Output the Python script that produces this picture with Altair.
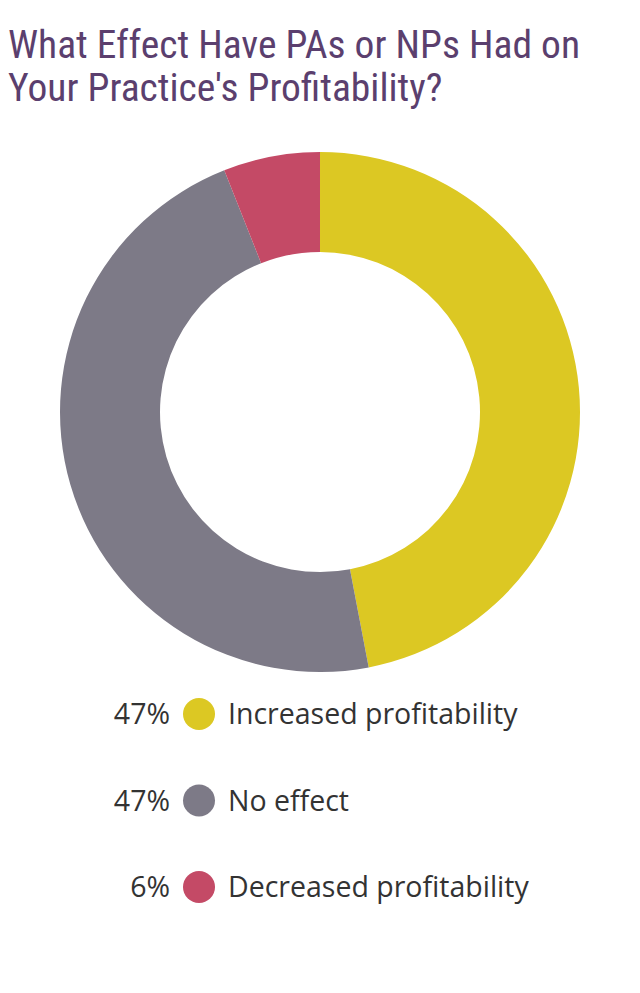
import altair as alt
import pandas as pd

categories = ["Increased profitability", "No effect", "Decreased profitability"]
percents = [47, 47, 6]
pct_labels = ["47%", "47%", "6%"]
colors = ["#dcc823", "#7d7a87", "#c44a66"]
title_lines = ["What Effect Have PAs or NPs Had on", "Your Practice's Profitability?"]

df = pd.DataFrame({
    "category": categories,
    "pct": percents,
    "pct_label": pct_labels,
    "idx": list(range(len(categories))),
})
tdf = pd.DataFrame({"line": ["\n".join(title_lines)]})

color = alt.Color("category:N", scale=alt.Scale(domain=categories, range=colors), legend=None)
ypos = alt.Y("category:N", scale=alt.Scale(type="point", domain=categories, range=[706, 879], padding=0), axis=None)

base = alt.Chart(df)

donut = base.mark_arc(outerRadius=260, innerRadius=160, stroke=None).encode(
    theta=alt.Theta("pct:Q", stack=True, scale=alt.Scale(domain=[0, 100])),
    color=color,
    order=alt.Order("idx:Q"),
    x=alt.value(312),
    y=alt.value(404),
)

dots = base.mark_point(shape="circle", filled=True, size=1024, opacity=1).encode(
    x=alt.value(191), y=ypos, color=color
)

txt_font = "'Open Sans', Lato, sans-serif"

pct_text = base.mark_text(align="right", baseline="middle", font=txt_font, fontSize=28.5, fontWeight=400, color="#333333", dy=1).encode(
    x=alt.value(162), y=ypos, text="pct_label:N"
)

lab_text = base.mark_text(align="left", baseline="middle", font=txt_font, fontSize=28.5, fontWeight=400, color="#333333", dy=1).encode(
    x=alt.value(220), y=ypos, text="category:N"
)

title = alt.Chart(tdf).mark_text(
    align="left", baseline="alphabetic", lineBreak="\n", lineHeight=43,
    font="'Roboto Condensed', 'Liberation Sans Narrow', 'DejaVu Sans Condensed', sans-serif",
    fontSize=39.5, color="#5b3f6e",
).encode(
    x=alt.value(0),
    y=alt.value(50),
    text="line:N",
)

chart = alt.layer(donut, dots, pct_text, lab_text, title).resolve_scale(y="independent").properties(
    width=624, height=977, padding=0, autosize=alt.AutoSizeParams(type="none")
).configure_view(stroke=None)

chart.save("out.html", embed_options={"renderer": "svg", "actions": False})
